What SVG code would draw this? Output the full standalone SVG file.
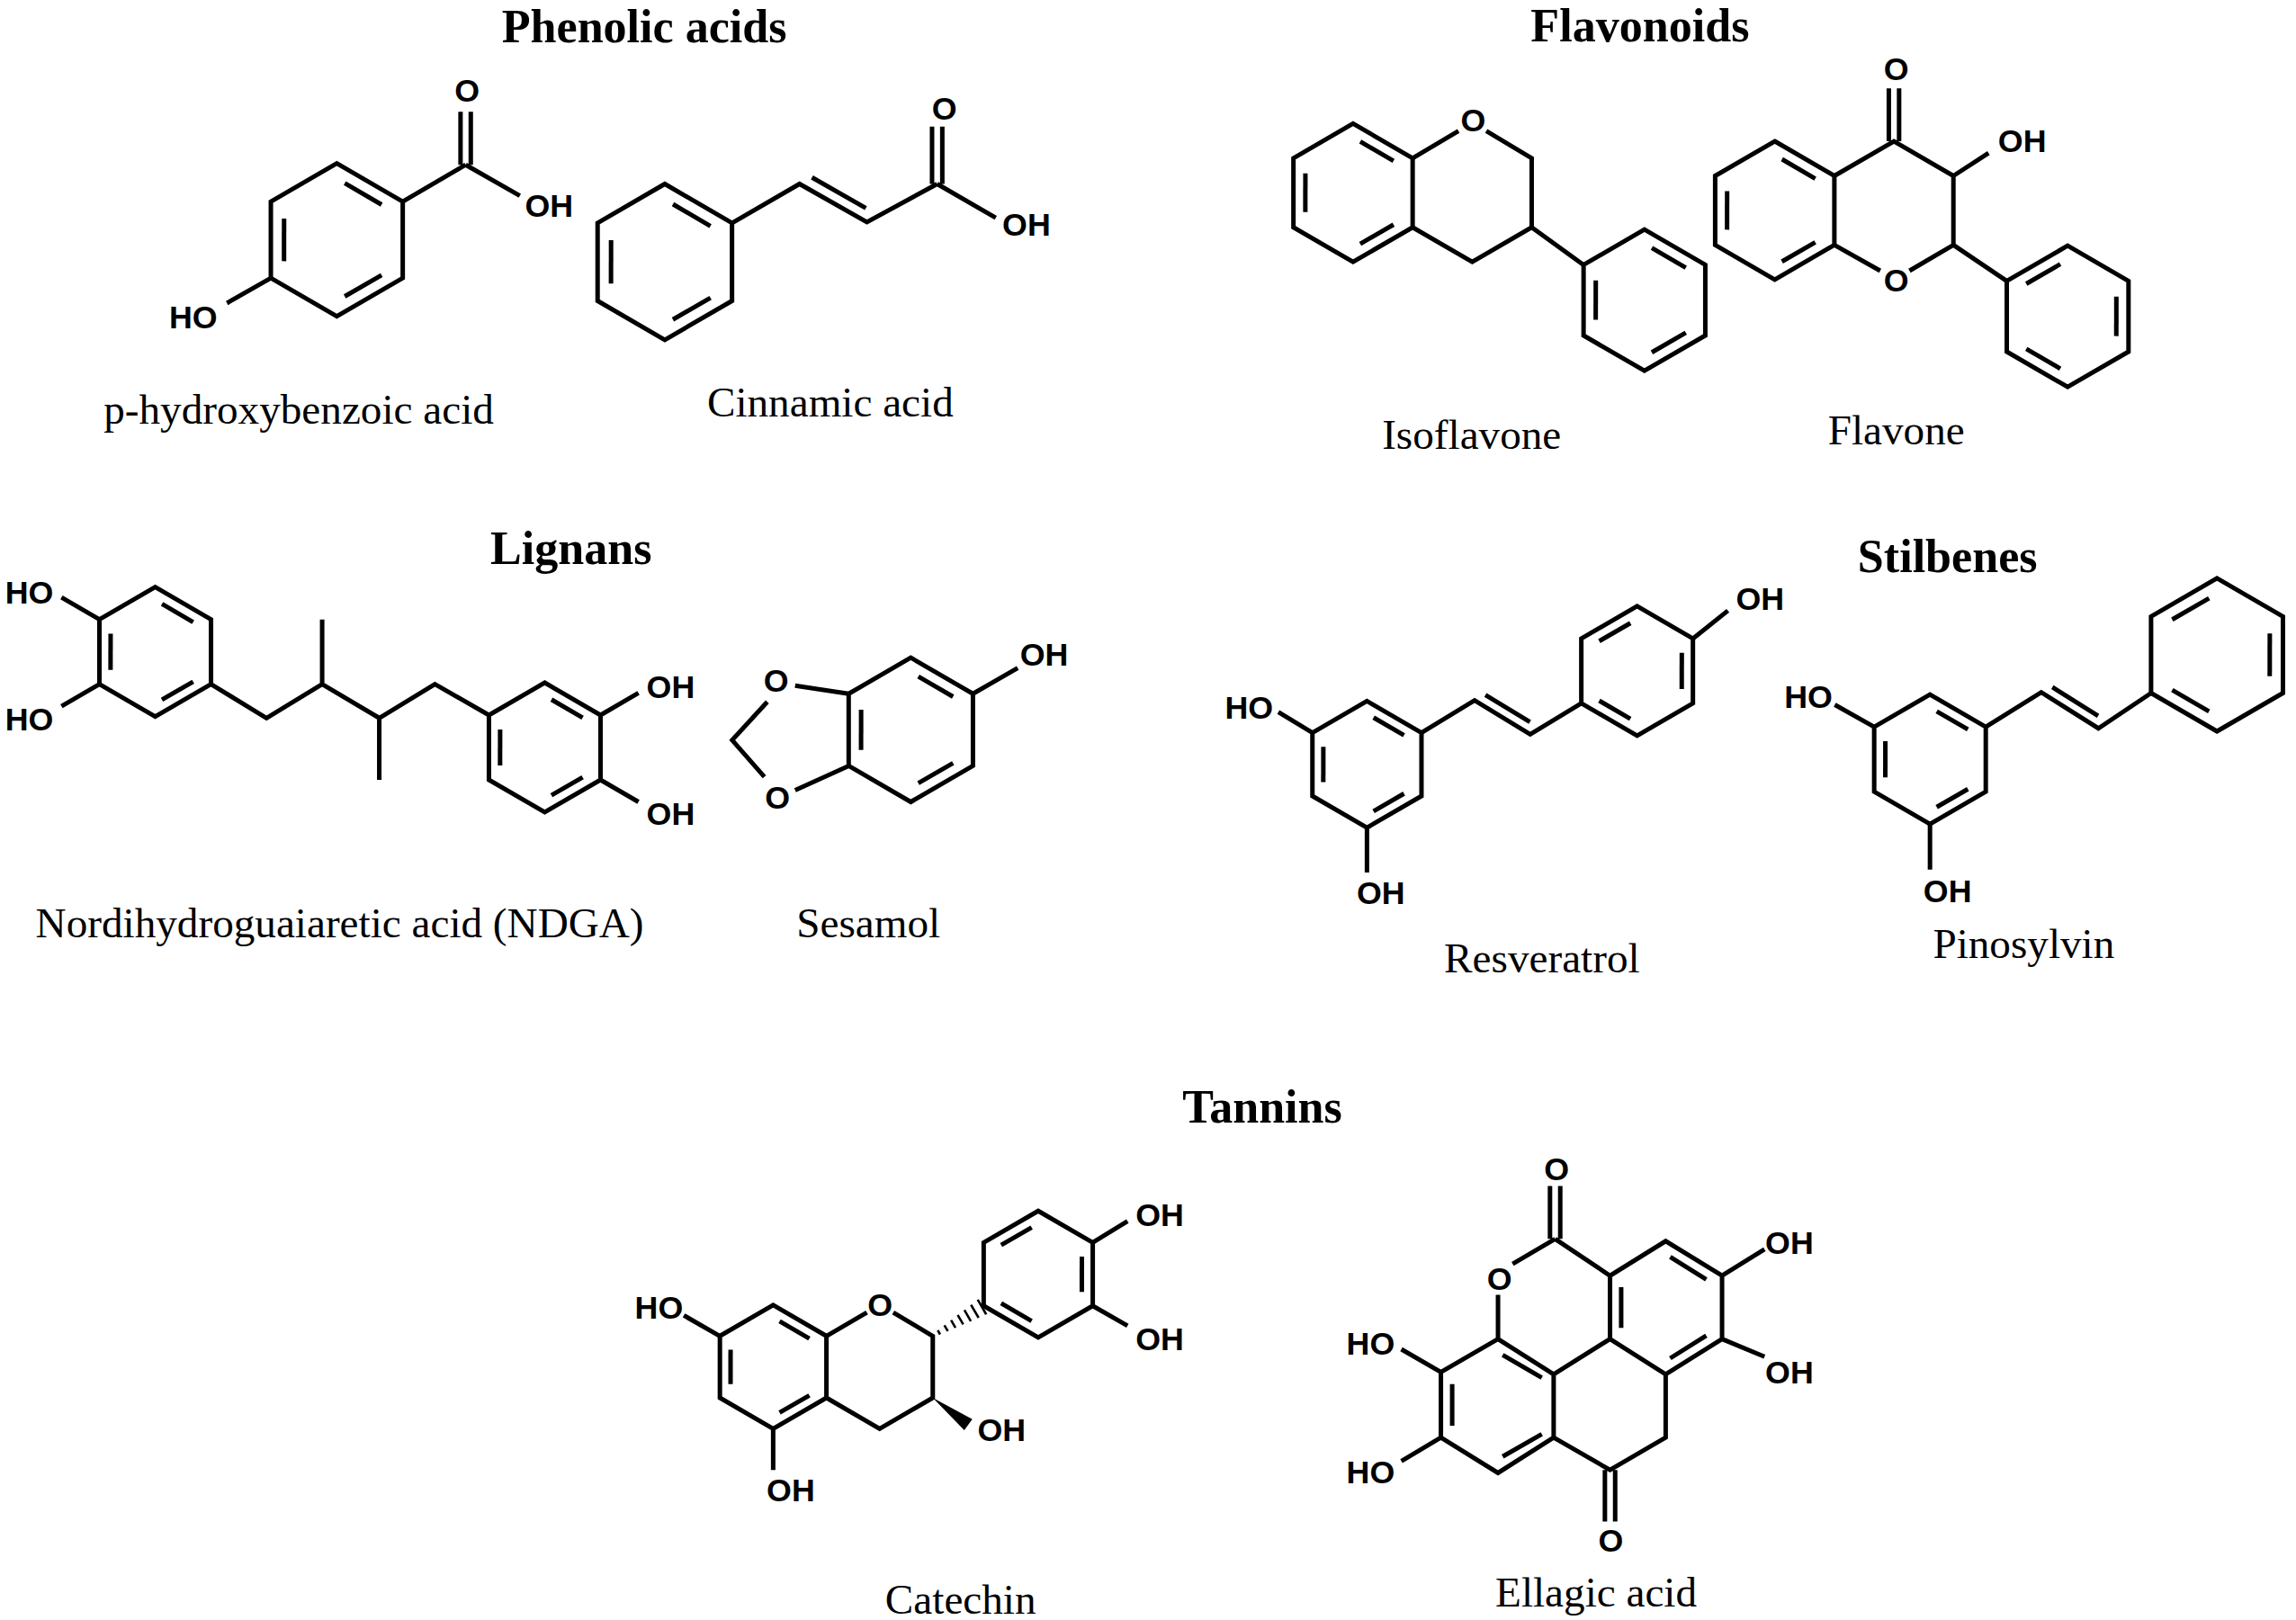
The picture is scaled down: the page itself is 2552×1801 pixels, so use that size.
<svg xmlns="http://www.w3.org/2000/svg" xmlns:xlink="http://www.w3.org/1999/xlink" width="2552" height="1801" viewBox="0 0 2552 1801">
<style>
.b{stroke:#000;stroke-width:5;fill:none;vector-effect:non-scaling-stroke;stroke-linecap:butt;stroke-linejoin:miter}
.h{stroke:#000;stroke-width:2.6;fill:none;vector-effect:non-scaling-stroke}
.t{font-family:"Liberation Serif","Times New Roman",serif;font-weight:bold;font-size:32px;text-anchor:middle}
.n{font-family:"Liberation Serif","Times New Roman",serif;font-size:29px;text-anchor:middle}
.a{font-family:"Liberation Sans",Arial,sans-serif;font-weight:bold;font-size:22px;text-anchor:middle;dominant-baseline:central}
</style>
<defs>
<polygon id="hex" class="b" points="0,-1 0.866,-0.5 0.866,0.5 0,1 -0.866,0.5 -0.866,-0.5"/>
<line id="e" class="b" x1="0.105" y1="-0.74" x2="0.588" y2="-0.46"/>
<g id="iA"><use href="#e"/><use href="#e" transform="rotate(120)"/><use href="#e" transform="rotate(240)"/></g>
<g id="iB"><use href="#e" transform="rotate(60)"/><use href="#e" transform="rotate(180)"/><use href="#e" transform="rotate(300)"/></g>
</defs>
<rect width="2552" height="1801" fill="#fff"/>
<g transform="scale(1.6276,1.6358)">
<g id="titles">
<text class="t" x="440" y="29">Phenolic acids</text>
<text class="t" x="1120" y="28">Flavonoids</text>
<text class="t" x="390" y="383">Lignans</text>
<text class="t" x="1330" y="389">Stilbenes</text>
<text class="t" x="862" y="763">Tannins</text>
</g>
<g id="phba">
<g transform="translate(230,163) scale(52)"><use href="#hex"/><use href="#iA"/></g>
<path class="b" d="M275,137 L318,112 M314.5,112 V76 M321.5,112 V76 M318,112 L355,133 M185,189 L155,206"/>
<text class="a" x="319" y="62">O</text><text class="a" x="375" y="140">OH</text><text class="a" x="132" y="216">HO</text>
<text class="n" x="204" y="288">p-hydroxybenzoic acid</text>
</g>
<g id="cinnamic">
<g transform="translate(454,178) scale(53)"><use href="#hex"/><use href="#iA"/></g>
<path class="b" d="M500,151.5 L546,125 L592,151 L640,125 M554.5,120.6 L591.3,141.4 M636.5,125 V86 M643.5,125 V86 M640,125 L680,148"/>
<text class="a" x="645" y="74">O</text><text class="a" x="701" y="153">OH</text>
<text class="n" x="567" y="283">Cinnamic acid</text>
</g>
<g id="isoflavone">
<g transform="translate(924,131) scale(47)"><use href="#hex"/><use href="#iA"/></g>
<g transform="translate(1123,204) scale(48)"><use href="#hex"/><use href="#iA"/></g>
<path class="b" d="M964.7,107.5 L996,89 M1015,89 L1046,107.5 V154.5 L1005.4,178 L964.7,154.5 M1046,154.5 L1081.4,180"/>
<text class="a" x="1006" y="82">O</text>
<text class="n" x="1005" y="305">Isoflavone</text>
</g>
<g id="flavone">
<g transform="translate(1212,143) scale(47)"><use href="#hex"/><use href="#iA"/></g>
<g transform="translate(1412,215) scale(48)"><use href="#hex"/><use href="#iB"/></g>
<path class="b" d="M1252.7,119.5 L1293.4,96 L1334,119.5 V166.5 L1304,184 M1284,184 L1252.7,166.5 M1289.9,96 V60 M1296.9,96 V60 M1334,119.5 L1358,104 M1334,166.5 L1370.4,191"/>
<text class="a" x="1295" y="47">O</text><text class="a" x="1295" y="191">O</text><text class="a" x="1381" y="96">OH</text>
<text class="n" x="1295" y="302">Flavone</text>
</g>
<g id="ndga">
<g transform="translate(106,443) scale(44)"><use href="#hex"/><use href="#iA"/></g>
<g transform="translate(372,508) scale(44)"><use href="#hex"/><use href="#iA"/></g>
<path class="b" d="M67.9,421 L42,406 M67.9,465 L42,480 M144.1,465 L182,488 L220,465 L259,488 L297,465 L333.9,486 M220,465 V421 M259,488 V530 M410.1,486 L436,471 M410.1,530 L436,545"/>
<text class="a" x="20" y="403">HO</text><text class="a" x="20" y="489">HO</text>
<text class="a" x="458" y="467">OH</text><text class="a" x="458" y="553">OH</text>
<text class="n" x="232" y="637">Nordihydroguaiaretic acid (NDGA)</text>
</g>
<g id="sesamol">
<g transform="translate(622,496) scale(49)"><use href="#hex"/><use href="#iA"/></g>
<path class="b" d="M664.4,471.5 L695,454 M579.6,471.5 L543,466 M524,477 L500,503 L522,528 M543,537 L579.6,520.5"/>
<text class="a" x="530" y="463">O</text><text class="a" x="531" y="542">O</text><text class="a" x="713" y="445">OH</text>
<text class="n" x="593" y="637">Sesamol</text>
</g>
<g id="resveratrol">
<g transform="translate(933.5,519.5) scale(43)"><use href="#hex"/><use href="#iA"/></g>
<g transform="translate(1118,456) scale(44)"><use href="#hex"/><use href="#iB"/></g>
<path class="b" d="M970.7,498 L1007,476 L1045,499 L1079.9,478 M1014.4,472.3 L1044.8,490.7 M896.3,498 L873,484 M933.5,562.5 V593 M1156.1,434 L1180,415"/>
<text class="a" x="853" y="481">HO</text><text class="a" x="943" y="607">OH</text><text class="a" x="1202" y="407">OH</text>
<text class="n" x="1053" y="661">Resveratrol</text>
</g>
<g id="pinosylvin">
<g transform="translate(1318,516) scale(44)"><use href="#hex"/><use href="#iA"/></g>
<g transform="translate(1514,445) scale(52)"><use href="#hex"/><use href="#iB"/></g>
<path class="b" d="M1356.1,494 L1394,470.5 L1433,495 L1469,471 M1401.6,467 L1432.8,486.6 M1279.9,494 L1253,479 M1318,560 V591"/>
<text class="a" x="1235" y="474">HO</text><text class="a" x="1330" y="606">OH</text>
<text class="n" x="1382" y="651">Pinosylvin</text>
</g>
<g id="catechin">
<g transform="translate(528,929) scale(42)"><use href="#hex"/><use href="#iA"/></g>
<g transform="translate(709,866) scale(43)"><use href="#hex"/><use href="#iB"/></g>
<path class="b" d="M564.4,908 L592,892 M610,892 L637,908 V950 L600.7,971 L564.4,950 M491.6,908 L467,894 M528,971 V999 M746.2,844.5 L770,830 M746.2,887.5 L770,901"/>
<polygon points="637,950 658.5,972 664,964.5" fill="#000"/>
<path class="h" d="M640.4,904.1 L642,906.9 M644.9,900.7 L647.3,904.7 M649.5,897.2 L652.5,902.4 M654,893.7 L657.8,900.1 M658.6,890.3 L663,897.9 M663.1,886.8 L668.3,895.6 M667.7,883.3 L673.5,893.3"/>
<text class="a" x="601" y="887">O</text><text class="a" x="450" y="889">HO</text><text class="a" x="540" y="1013">OH</text>
<text class="a" x="684" y="972">OH</text><text class="a" x="792" y="826">OH</text><text class="a" x="792" y="910">OH</text>
<text class="n" x="656" y="1097">Catechin</text>
</g>
<g id="ellagic">
<path class="b" d="M1062,842 L1033,859 M1023,880 V910 L984,932.5 V977 L1023,1001 L1061,977 V934 L1023,910 M1062,842 L1099.5,867 L1137.5,843.5 L1176,867 V910 L1137.5,934 L1099.5,910 V867 M1099.5,910 L1061,934 M1137.5,934 V977 L1099.5,999 L1061,977 M1058.5,842 V806 M1065.5,842 V806 M1096,999 V1034 M1103,999 V1034 M1026.2,920.9 L1052.9,936.3 M991.7,940.6 V969 M1026.2,989.9 L1052.9,974.7 M1140.6,854.3 L1165.2,869.5 M1107.1,874.8 V902.4 M1165.2,907.7 L1140.6,923.1 M984,932.5 L957,917 M984,977 L957,993 M1176,867 L1205,849 M1176,910 L1205,922"/>
<text class="a" x="1063" y="795">O</text><text class="a" x="1024" y="869">O</text><text class="a" x="1100" y="1047">O</text>
<text class="a" x="936" y="913">HO</text><text class="a" x="936" y="1001">HO</text><text class="a" x="1222" y="845">OH</text><text class="a" x="1222" y="933">OH</text>
<text class="n" x="1090" y="1092">Ellagic acid</text>
</g>
</g>
</svg>
